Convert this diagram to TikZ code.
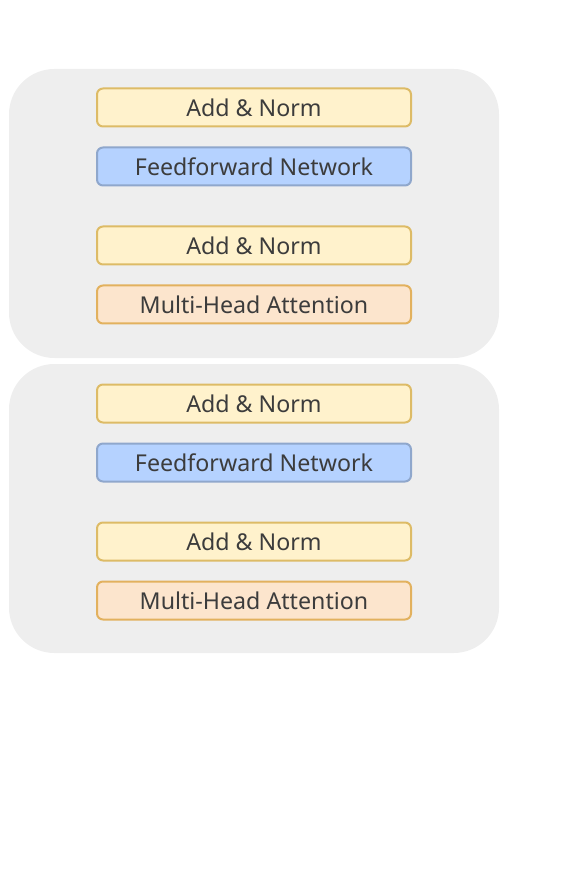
\documentclass[tikz,border=0pt]{standalone}
\usepackage{fontspec}
\setmainfont{Noto Sans}
\usetikzlibrary{positioning}
\definecolor{panelgray}{HTML}{EEEEEE}
\definecolor{normfill}{HTML}{FFF2CC}
\definecolor{normline}{HTML}{DDBB66}
\definecolor{ffnfill}{HTML}{B5D2FF}
\definecolor{ffnline}{HTML}{8FA7CC}
\definecolor{attnfill}{HTML}{FCE5CD}
\definecolor{attnline}{HTML}{E2B15E}
\definecolor{labelgray}{HTML}{3C3C3C}
\tikzset{
    block/.style={ % grey encoder block
        fill=panelgray,
        rounded corners=34pt,
        minimum width=367.5pt,
        minimum height=216.75pt
    },
    layer/.style={ % one sub-layer inside a block
        draw,
        line width=1.5pt,
        rounded corners=4.5pt,
        minimum width=235.5pt,
        minimum height=28.5pt,
        text=labelgray,
        font=\fontsize{17.4}{19}\selectfont
    },
    addnorm/.style={layer, fill=normfill, draw=normline},
    ffn/.style={layer, fill=ffnfill, draw=ffnline},
    attn/.style={layer, fill=attnfill, draw=attnline},
}

\begin{document}
\begin{tikzpicture}[x=0.75pt, y=-0.75pt]
    \useasboundingbox (0,0) rectangle (578,887);
    \node[block] (blockA) at (254,213.5) {};
    \node[block] (blockB) at (254,508.5) {};

    % upper block
    \node[addnorm]                          (normA2) at (254,107.5) {Add \& Norm};
    \node[ffn,     below=14.25pt of normA2] (ffnA)   {Feedforward Network};
    \node[addnorm, below=29.25pt of ffnA]   (normA1) {Add \& Norm};
    \node[attn,    below=14.25pt of normA1] (attnA)  {Multi-Head Attention};

    % lower block
    \node[addnorm, below=44.25pt of attnA]  (normB2) {Add \& Norm};
    \node[ffn,     below=14.25pt of normB2] (ffnB)   {Feedforward Network};
    \node[addnorm, below=29.25pt of ffnB]   (normB1) {Add \& Norm};
    \node[attn,    below=14.25pt of normB1] (attnB)  {Multi-Head Attention};
\end{tikzpicture}
\end{document}
